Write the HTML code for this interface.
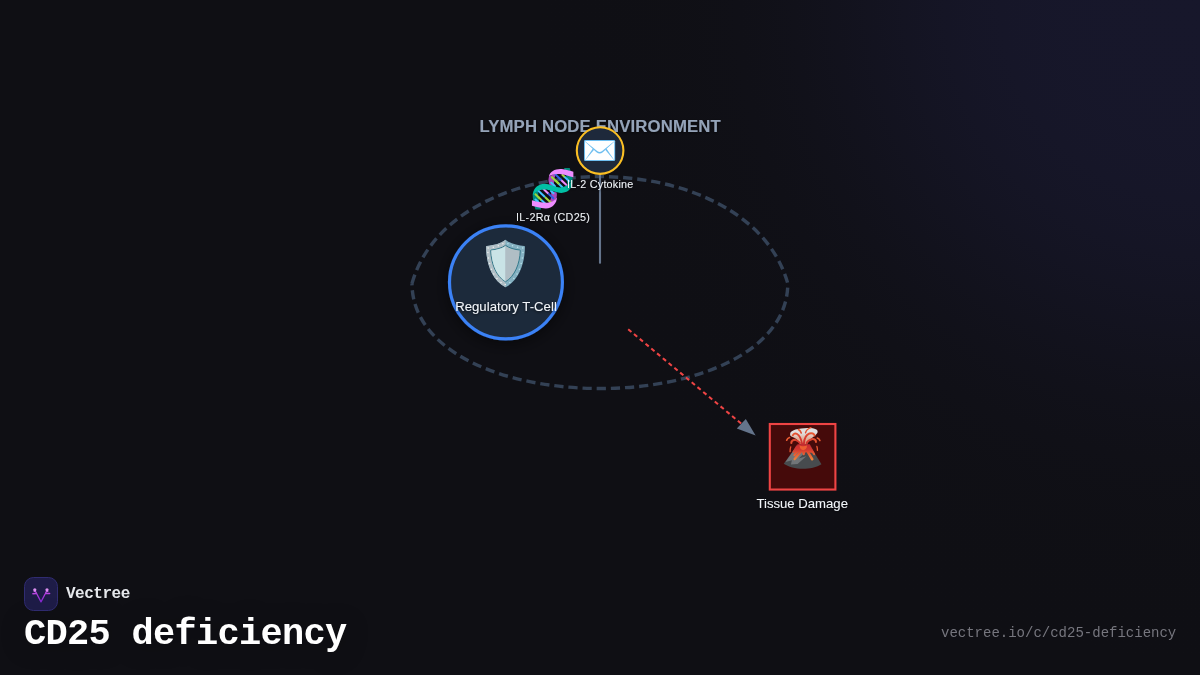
<!DOCTYPE html>
<html lang="en">
<head>
<meta charset="utf-8">
<title>CD25 deficiency</title>
<style>
html,body{margin:0;padding:0;}
body{width:1200px;height:675px;overflow:hidden;background:#0f0f14;position:relative;font-family:"Liberation Sans",sans-serif;}
#bg{position:absolute;left:0;top:0;width:1200px;height:675px;background:radial-gradient(circle 720px at 100% 0%, rgba(23,23,43,0.9979) 0.00%, rgba(23,23,43,0.9961) 3.33%, rgba(23,23,43,0.9929) 6.67%, rgba(23,23,43,0.9876) 10.00%, rgba(23,23,43,0.9791) 13.33%, rgba(23,23,43,0.9661) 16.67%, rgba(23,23,43,0.9471) 20.00%, rgba(23,23,43,0.9205) 23.33%, rgba(23,23,43,0.8849) 26.67%, rgba(23,23,43,0.8392) 30.00%, rgba(23,23,43,0.7831) 33.33%, rgba(23,23,43,0.7170) 36.67%, rgba(23,23,43,0.6425) 40.00%, rgba(23,23,43,0.5622) 43.33%, rgba(23,23,43,0.4792) 46.67%, rgba(23,23,43,0.3971) 50.00%, rgba(23,23,43,0.3193) 53.33%, rgba(23,23,43,0.2488) 56.67%, rgba(23,23,43,0.1876) 60.00%, rgba(23,23,43,0.1366) 63.33%, rgba(23,23,43,0.0961) 66.67%, rgba(23,23,43,0.0651) 70.00%, rgba(23,23,43,0.0426) 73.33%, rgba(23,23,43,0.0268) 76.67%, rgba(23,23,43,0.0162) 80.00%, rgba(23,23,43,0.0094) 83.33%, rgba(23,23,43,0.0053) 86.67%, rgba(23,23,43,0.0028) 90.00%, rgba(23,23,43,0.0015) 93.33%, rgba(23,23,43,0.0007) 96.67%, rgba(23,23,43,0.0000) 100.00%);}
#dia{position:absolute;left:0;top:0;width:1200px;height:675px;}
#dia text{font-family:"Liberation Sans",sans-serif;}
#brand{will-change:transform;position:absolute;left:24px;top:577px;height:34px;display:flex;align-items:center;}
#logo{width:34px;height:34px;border-radius:9.5px;background:#1e1c47;border:1px solid #302c72;box-sizing:border-box;position:relative;}
#logo svg{position:absolute;left:-1px;top:-1px;}
#brandname{font-family:"Liberation Mono",monospace;font-weight:bold;font-size:16px;letter-spacing:-0.48px;color:#e5e7eb;margin-left:8px;}
#title{text-shadow:0 2px 24px rgba(0,0,0,0.35);will-change:transform;position:absolute;left:24px;top:611.7px;font-family:"Liberation Mono",monospace;font-weight:bold;font-size:37px;letter-spacing:-0.7px;color:#fff;line-height:44px;white-space:nowrap;}
#url{will-change:transform;position:absolute;right:24px;top:624px;font-family:"Liberation Mono",monospace;font-size:14px;color:#76767e;line-height:18px;white-space:nowrap;}
</style>
</head>
<body>
<div id="bg"></div>
<svg id="dia" width="1200" height="675" viewBox="0 0 1200 675">
  <defs><clipPath id="shL"><rect x="0" y="0" width="498" height="1000"/></clipPath>
<linearGradient id="vSm" x1="0" y1="100" x2="0" y2="440" gradientUnits="userSpaceOnUse"><stop offset="0.25" stop-color="#e0e0e0"/><stop offset="0.6" stop-color="#e2af9a"/><stop offset="1" stop-color="#e79f69"/></linearGradient>
<linearGradient id="vLv" x1="0" y1="430" x2="0" y2="760" gradientUnits="userSpaceOnUse"><stop offset="0" stop-color="#c92b30"/><stop offset="0.3" stop-color="#d13630"/><stop offset="0.6" stop-color="#ea5b31"/><stop offset="1" stop-color="#ee873b"/></linearGradient>
<radialGradient id="vFt" cx="505" cy="420" r="330" gradientUnits="userSpaceOnUse"><stop offset="0" stop-color="#c92b30"/><stop offset="0.5" stop-color="#d94130"/><stop offset="1" stop-color="#ea5b31"/></radialGradient>

  <filter id="ts" x="-20%" y="-50%" width="140%" height="200%"><feDropShadow dx="0" dy="1" stdDeviation="1.5" flood-color="#000" flood-opacity="0.7"/></filter>
  <filter id="sh" x="-30%" y="-30%" width="160%" height="160%"><feDropShadow dx="0" dy="3" stdDeviation="8" flood-color="#000" flood-opacity="0.5"/></filter>
  </defs>
  <text filter="url(#ts)" x="600.15" y="131.8" text-anchor="middle" font-size="16.8" letter-spacing="0.115" font-weight="bold" fill="#94a3b8">LYMPH NODE ENVIRONMENT</text>
  <path d="M412 283.5C452 141 747.8 141 787.8 283.5C787.8 350.7 697.8 388.5 600 388.5C502.2 388.5 412 350.7 412 283.5" fill="none" stroke="#334155" stroke-width="3.4" stroke-dasharray="9.25 4.9"/>
  <line x1="600" y1="174" x2="600" y2="263.6" stroke="#64748b" stroke-width="2.1"/>
  <circle cx="600.1" cy="150.6" r="23.3" fill="#1e293b" stroke="#fbbf24" stroke-width="2.1"/>
  <g transform="translate(581.8 132.74) scale(0.0357)"><g id="env">
<rect x="62" y="203" width="873" height="592" rx="38" fill="#6fbff0"/>
<rect x="90" y="232" width="817" height="534" rx="6" fill="#ffffff"/>
<path fill="#6fbff0" d="M92 236L440 520Q500 560 560 520L907 236L907 250L590 545Q500 615 410 545L92 250Z"/>
<path fill="#6fbff0" d="M92 765L310 440L345 475L100 765Z"/>
<path fill="#6fbff0" d="M907 765L690 440L655 475L899 765Z"/>
</g></g>
  <g transform="translate(529.34 165.36) scale(0.0471)"><g id="dna">
<path fill="#00897b" d="M738 58L857 58C875 130 930 240 913 320L830 415C795 400 800 330 795 290C790 230 760 130 738 58Z"/>
<path fill="#00897b" d="M75 600L165 530C205 560 185 640 200 720C210 800 235 880 250 935L130 935C110 850 60 720 75 600Z"/>
<path fill="#ab47bc" d="M420 232C395 300 400 400 470 470L560 450C520 400 505 320 545 240C560 215 540 195 520 190Z"/>
<path fill="#ab47bc" d="M450 540L580 578C600 680 560 760 450 802L400 790C470 740 480 640 450 540Z"/>
<g fill="none" stroke-width="44" stroke-linecap="round">
<path stroke="#40c4ff" d="M620 385L700 465"/><path stroke="#9ed839" d="M480 250L620 385" /><path stroke="#9ed839" stroke-linecap="butt" d="M560 328L620 385"/>
<path stroke="#ee8cff" d="M680 315L800 430"/><path stroke="#2e5fe6" stroke-linecap="butt" d="M540 180L680 315"/>
<path stroke="#40c4ff" d="M750 245L845 335"/><path stroke="#9ed839" stroke-linecap="butt" d="M690 188L750 245"/>
<path stroke="#40c4ff" d="M465 370L545 445"/>
<path stroke="#40c4ff" d="M130 725L210 800"/>
<path stroke="#40c4ff" d="M255 735L340 815"/><path stroke="#9ed839" d="M130 615L200 682"/><path stroke="#9ed839" stroke-linecap="butt" d="M190 672L255 735"/>
<path stroke="#9ed839" stroke-linecap="butt" d="M330 670L460 795"/><path stroke="#40c4ff" stroke-linecap="butt" d="M170 518L330 670"/>
<path stroke="#2e5fe6" d="M400 595L510 700"/><path stroke="#ee8cff" stroke-linecap="butt" d="M290 490L400 595"/>
<path stroke="#40c4ff" d="M460 545L512 592"/>
</g>
<path fill="#00bfa5" d="M75 605C90 480 200 390 320 390C440 390 540 470 660 468C740 466 800 430 840 400C880 365 905 330 913 298C925 400 880 520 790 562C700 605 600 585 500 547C400 510 300 500 210 528C140 552 100 590 75 640Z"/>
<path fill="#ee8cff" d="M415 235C440 120 580 60 720 85C800 98 870 120 935 135L935 255C850 235 760 195 640 185C540 178 450 210 415 235Z"/>
<path fill="#ee8cff" d="M55 740C150 765 250 795 370 795C470 790 550 740 585 675C590 800 480 925 340 915C230 910 130 880 55 860Z"/>
</g></g>
  <text filter="url(#ts)" x="600.3" y="187.8" text-anchor="middle" font-size="10.8" letter-spacing="0.22" fill="#f1f5f9">IL-2 Cytokine</text>
  <text filter="url(#ts)" x="553.1" y="220.7" text-anchor="middle" font-size="10.8" letter-spacing="0.28" fill="#f1f5f9">IL-2Rα (CD25)</text>
  <circle cx="505.95" cy="282.35" r="56.45" fill="#1e293b" stroke="#3b82f6" stroke-width="3.15" filter="url(#sh)"/>
  <g transform="translate(478.6 236.66) scale(0.054)"><g id="shield">
<path fill="#84b0c1" d="M498 58C420 130 260 165 152 172Q138 173 138 188C140 480 235 800 498 938C761 800 856 480 858 188Q858 173 844 172C736 165 576 130 498 58Z"/>
<path clip-path="url(#shL)" fill="#b0bec5" d="M498 58C420 130 260 165 152 172Q138 173 138 188C140 480 235 800 498 938C761 800 856 480 858 188Q858 173 844 172C736 165 576 130 498 58Z"/>
<path fill="#b0bec5" stroke="#2f7889" stroke-width="18" stroke-linejoin="round" d="M498 160C440 208 322 240 232 247Q223 248 224 258C232 500 326 735 498 836C670 735 764 500 772 258Q773 248 764 247C674 240 556 208 498 160Z"/>
<path clip-path="url(#shL)" fill="#c9e3e6" d="M498 172C440 218 326 248 236 256C242 500 332 728 498 825Z"/>
<g fill="#eeeeee"><circle cx="176" cy="209" r="14"/><circle cx="272" cy="195" r="14"/><circle cx="365" cy="168" r="14"/><circle cx="450" cy="130" r="14"/><circle cx="172" cy="295" r="14"/><circle cx="183" cy="396" r="14"/><circle cx="204" cy="497" r="14"/><circle cx="237" cy="603" r="14"/><circle cx="281" cy="692" r="14"/><circle cx="340" cy="776" r="14"/><circle cx="415" cy="850" r="14"/><circle cx="494" cy="888" r="14"/></g>
<g fill="#b9e4ea"><circle cx="543" cy="130" r="14"/><circle cx="628" cy="168" r="14"/><circle cx="722" cy="195" r="14"/><circle cx="817" cy="209" r="14"/><circle cx="821" cy="295" r="14"/><circle cx="810" cy="396" r="14"/><circle cx="789" cy="497" r="14"/><circle cx="756" cy="603" r="14"/><circle cx="712" cy="692" r="14"/><circle cx="653" cy="776" r="14"/><circle cx="578" cy="850" r="14"/></g>
</g></g>
  <text filter="url(#ts)" x="506" y="310.8" text-anchor="middle" font-size="13.2" fill="#f1f5f9">Regulatory T-Cell</text>
  <line x1="628.2" y1="329.25" x2="742.5" y2="424.7" stroke="#ef4444" stroke-width="2.05" stroke-dasharray="4.2 3.32"/>
  <polygon points="755.6,435.6 745.8,418.9 736.8,428.5" fill="#64748b"/>
  <rect x="769.8" y="424" width="65.6" height="65.55" fill="#450a0a" stroke="#ef4444" stroke-width="2.1"/>
  <g transform="translate(779.12 424.27) scale(0.0473)"><g id="vol">
<path fill="url(#vSm)" d="M232 215C225 120 420 85 600 80C760 78 830 110 812 175C795 235 640 300 590 425L440 425C420 330 330 290 270 265C240 250 232 235 232 215Z"/>
<path fill="#474b4e" d="M385 440L640 430L895 845C800 910 640 940 500 940C350 940 190 900 98 835Z"/>
<path fill="#717578" d="M330 520L135 800L270 760L250 848L390 838L575 675L415 722L540 600L470 520Z"/>
<g fill="url(#vLv)" stroke="url(#vLv)" stroke-linecap="round" stroke-linejoin="round">
<path stroke-width="10" d="M395 428L645 428L740 600L560 585L520 640L480 590L330 590Z"/>
<path fill="none" stroke-width="44" d="M375 470L305 585"/>
<path fill="none" stroke-width="48" d="M400 560L325 650"/>
<path fill="none" stroke-width="50" d="M440 600L328 735"/>
<path fill="none" stroke-width="44" d="M520 580L520 632"/>
<path fill="none" stroke-width="54" d="M610 590L700 740"/>
<path fill="none" stroke-width="40" d="M660 520L740 632"/>
</g>
<path fill="#ec5f32" d="M432 450C470 472 550 472 590 450C592 515 545 548 510 548C470 548 435 512 432 450Z"/>
<g fill="none" stroke="url(#vFt)" stroke-linecap="round">
<path stroke-width="40" d="M290 235C300 195 345 185 380 205C450 245 470 330 486 415"/>
<path stroke-width="44" d="M258 395C255 345 310 320 355 335C400 350 425 375 438 398"/>
<path stroke-width="40" d="M750 240C745 195 690 180 640 195C570 220 530 320 524 415"/>
<path stroke-width="44" d="M778 372C780 330 740 305 690 315C630 328 595 365 580 400"/>
<path stroke-width="34" d="M408 112C435 125 460 160 468 185"/>
<path stroke-width="30" d="M558 180C570 135 620 88 672 72"/>
<path stroke-width="34" d="M160 338C170 310 195 290 220 282"/>
<path stroke-width="34" d="M808 290C835 300 855 320 862 342"/>
<path stroke-width="28" d="M245 478C235 510 230 545 232 578"/>
<path stroke-width="28" d="M798 470C808 500 812 525 810 550"/>
</g>
</g></g>
  <text filter="url(#ts)" x="802.2" y="507.8" text-anchor="middle" font-size="13.15" fill="#f1f5f9">Tissue Damage</text>
</svg>
<div id="brand"><div id="logo"><svg width="34" height="34" viewBox="0 0 34 34"><defs><linearGradient id="lg" x1="0" y1="12" x2="0" y2="25" gradientUnits="userSpaceOnUse"><stop offset="0" stop-color="#cf62ec"/><stop offset="0.45" stop-color="#b03ade"/><stop offset="1" stop-color="#8426d2"/></linearGradient></defs><g fill="none" stroke="url(#lg)" stroke-width="1.25" stroke-linecap="round" stroke-linejoin="round"><path d="M10.9 13.2L12.6 16.5L17 24.9L21.4 16.5L23 13.2"/><path stroke-width="1.5" d="M8.9 16.65L12.3 16.55"/><path stroke-width="1.5" d="M25.6 16.55L21.9 16.55"/><path d="M10 14.6L11.2 14.5" stroke-width="1"/><path d="M24 14.6L22.8 14.5" stroke-width="1"/></g><circle cx="10.8" cy="12.85" r="1.6" fill="#dc8ff0"/><circle cx="23" cy="12.85" r="1.6" fill="#dc8ff0"/></svg></div><div id="brandname">Vectree</div></div>
<div id="title">CD25 deficiency</div>
<div id="url">vectree.io/c/cd25-deficiency</div>
</body>
</html>
